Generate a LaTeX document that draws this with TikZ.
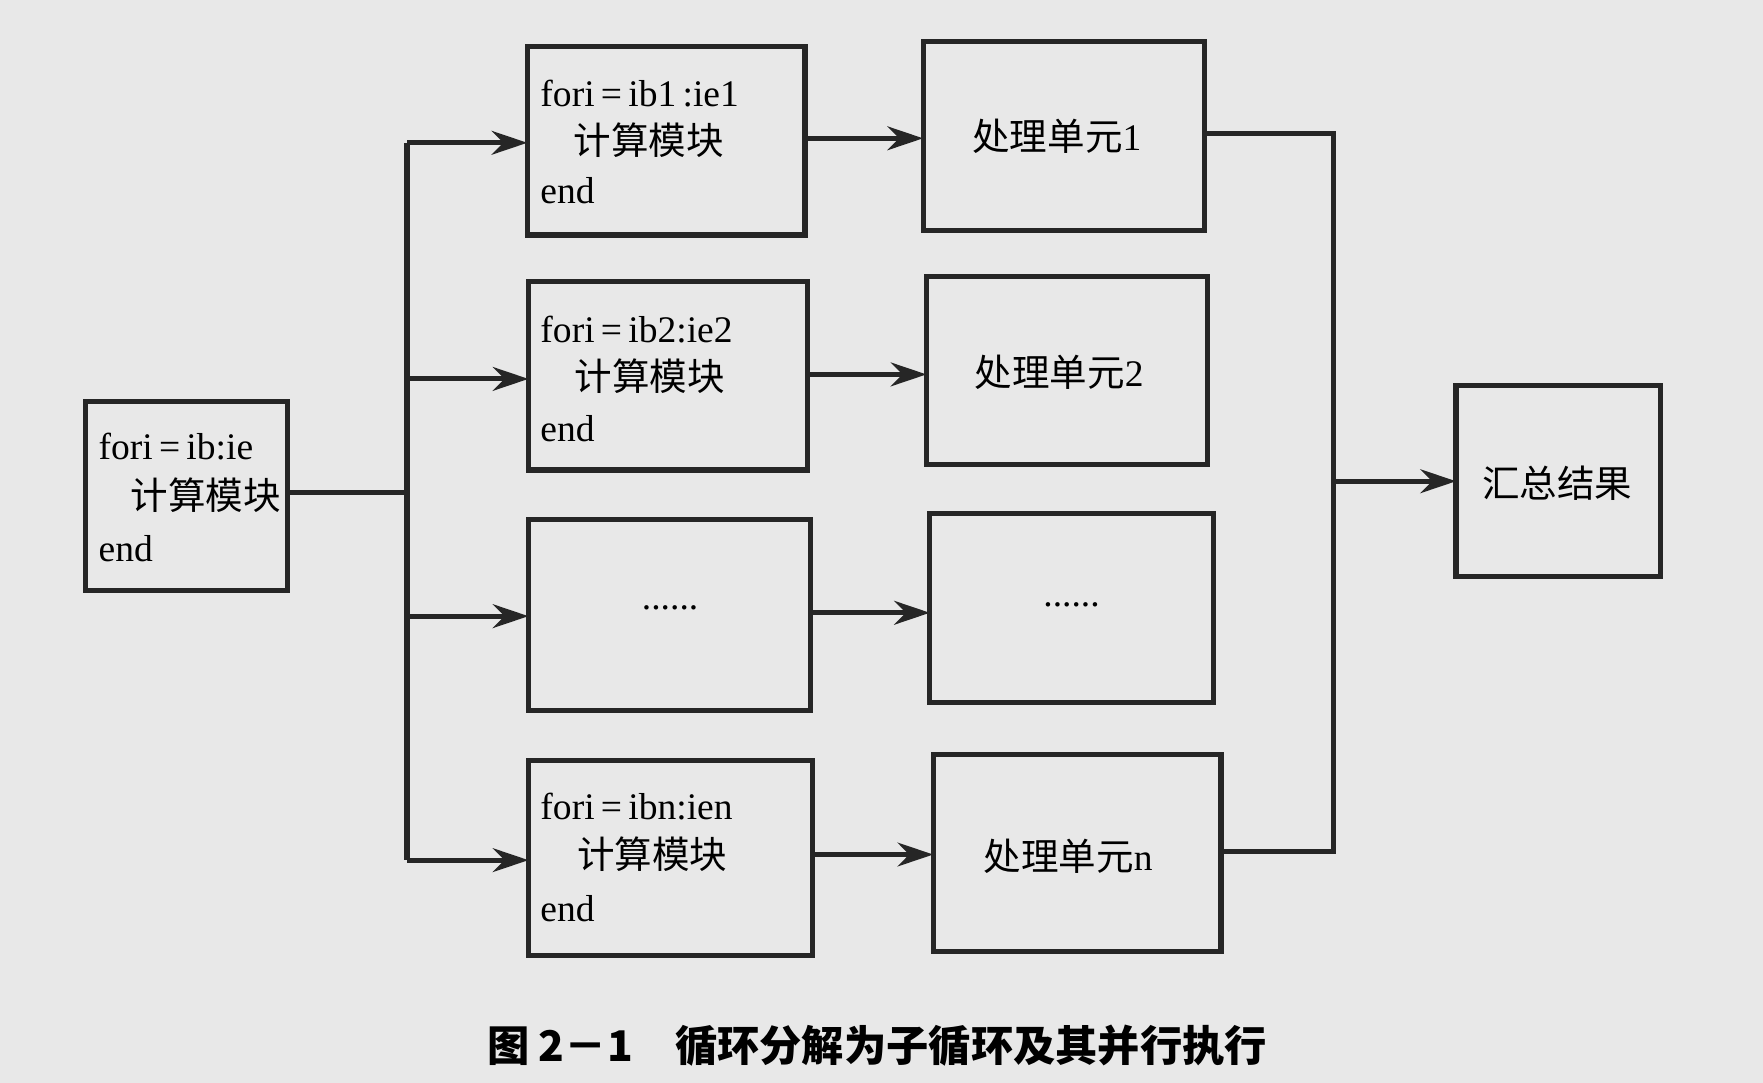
\documentclass[tikz,border=0pt]{standalone}
\usepackage{fontspec}
\setmainfont{Liberation Serif}
\newfontfamily\cjk{Noto Sans CJK SC}
\usetikzlibrary{arrows.meta}
\begin{document}
\begin{tikzpicture}[x=0.1mm,y=-0.1mm,
  bx/.style={draw=black!85,line width=1.3pt},
  ln/.style={draw=black!85,line width=1.3pt},
  ar/.style={ln,-{Stealth[length=9pt,width=6pt]}},
  tx/.style={font=\fontsize{9.5}{11}\selectfont,anchor=west,inner sep=0},
  cj/.style={font=\cjk\fontsize{9.5}{11}\selectfont,inner sep=0}]
\fill[black!9] (0,0) rectangle (1568,963);
\useasboundingbox (0,0) rectangle (1568,963);
% source
\draw[bx] (76,357) rectangle (256,525);
\node[tx] (a1) at (87,397) {fori\,=\,ib:ie};
\node[cj] (a2) at (183,440) {计算模块};
\node[tx] (a3) at (87,488) {end};
% B column
\draw[bx] (469,41) rectangle (716,209);
\draw[bx] (470,250) rectangle (718,418);
\draw[bx] (470,462) rectangle (721,632);
\draw[bx] (470,676) rectangle (723,850);
\node[tx] (b1a) at (480,83) {fori\,=\,ib1\,:ie1};
\node[cj] (b1b) at (577,125) {计算模块};
\node[tx] (b1c) at (480,170) {end};
\node[tx] (b2a) at (480,293) {fori\,=\,ib2:ie2};
\node[cj] (b2b) at (578,335) {计算模块};
\node[tx] (b2c) at (480,381) {end};
\node (b3) at (596,541) {\fontsize{9.5}{11}\selectfont ......};
\node[tx] (bna) at (480,717) {fori\,=\,ibn:ien};
\node[cj] (bnb) at (580,760) {计算模块};
\node[tx] (bnc) at (480,808) {end};
% C column
\draw[bx] (821,37) rectangle (1071,205);
\draw[bx] (824,246) rectangle (1074,413);
\draw[bx] (827,457) rectangle (1079,625);
\draw[bx] (830,671) rectangle (1086,846);
\node[cj] (c1) at (940,121) {处理单元\rmfamily 1};
\node[cj] (c2) at (942,331) {处理单元\rmfamily 2};
\node (c3) at (953,538) {\fontsize{9.5}{11}\selectfont ......};
\node[cj] (cn) at (950,762) {处理单元\rmfamily n};
% D
\draw[bx] (1295,343) rectangle (1477,513);
\node[cj] (d) at (1385,430) {汇总结果};
% bus left
\coordinate (s) at (256,438);
\coordinate (j) at (362,438);
\draw[ln] (s) -- (j);
\draw[ln] (362,127) -- (362,765);
\draw[ar] (362,127) -- (469,127);
\draw[ar] (362,337) -- (470,337);
\draw[ar] (362,548) -- (470,548);
\draw[ar] (362,765) -- (470,765);
% B->C
\draw[ar] (716,123) -- (821,123);
\draw[ar] (718,333) -- (824,333);
\draw[ar] (721,545) -- (827,545);
\draw[ar] (723,760) -- (830,760);
% right bus
\draw[ln] (1071,119) -- (1186,119) -- (1186,757) -- (1086,757);
\draw[ar] (1186,428) -- (1295,428);
% caption
\node (cap) at (780,930) {\cjk\bfseries\fontsize{10.7}{12}\selectfont 图 2－1\quad 循环分解为子循环及其并行执行};
\end{tikzpicture}
\end{document}
